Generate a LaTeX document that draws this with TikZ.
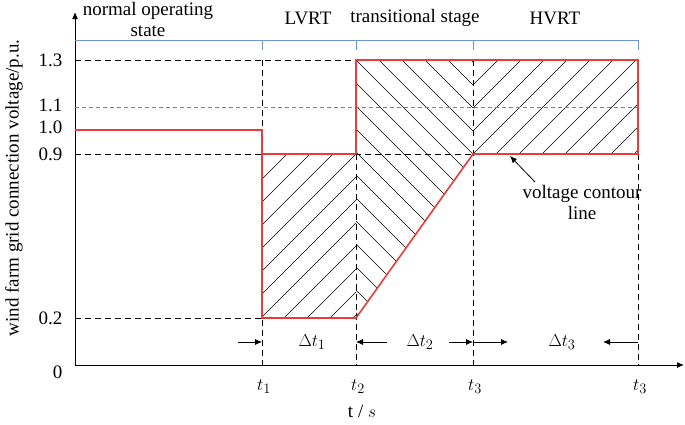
\documentclass[tikz,border=0pt]{standalone}
\usepackage{fontspec}
\setmainfont{Liberation Serif}
\usetikzlibrary{arrows.meta}
\begin{document}
\begin{tikzpicture}[x=1pt,y=-1pt,font=\fontsize{19}{21}\selectfont,
  dsh/.style={dash pattern=on 6pt off 4pt,line width=0.8pt},
  red/.style={draw={rgb,255:red,235;green,60;blue,60},line width=1.6pt},
  hatch/.style={line width=0.6pt},
  arr/.style={-{Latex[length=7pt,width=6pt]},line width=0.8pt}]
\useasboundingbox (0,0) rectangle (685,424);
% axes
\coordinate (O) at (75,365);
\coordinate (Ytop) at (75,12);
\coordinate (Xend) at (684,365);
\draw[arr,line width=1pt] (O) -- (Ytop);
\draw[arr,line width=1pt] (O) -- (Xend);
% blue bracket
\draw[draw={rgb,255:red,110;green,150;blue,210},line width=0.8pt] (75,40) -- (638,40)
  (262,40) -- (262,50) (356,40) -- (356,50) (473,40) -- (473,50) (638,40) -- (638,50);
% hatching
\begin{scope}
\clip (262,154) -- (356,154) -- (356,318) -- (262,318) -- cycle;
\foreach \i in {-12,...,12} \draw[hatch] (356+\i*23-300,154+300) -- ++(600,-600);
\end{scope}
\begin{scope}
\clip (356,60) -- (473,60) -- (473,154) -- (356,318) -- cycle;
\foreach \i in {-14,...,14} \draw[hatch] (473+\i*23-300,154-300) -- ++(600,600);
\end{scope}
\begin{scope}
\clip (473,60) -- (638,60) -- (638,154) -- (473,154) -- cycle;
\foreach \i in {-12,...,12} \draw[hatch] (473+\i*23-300,154+300) -- ++(600,-600);
\end{scope}
% dashed guides
\draw[dsh] (75,60) -- (356,60);
\draw[dsh] (75,154) -- (473,154);
\draw[dsh] (75,318) -- (262,318);
\draw[dash pattern=on 4pt off 3pt,line width=0.6pt,gray] (75,107) -- (638,107);
\draw[dsh] (262,60) -- (262,365);
\draw[dsh] (356,154) -- (356,365);
\draw[dsh] (473,60) -- (473,365);
\draw[dsh] (638,154) -- (638,365);
% red contour
\draw[red,line join=miter] (75,130) -- (262,130) -- (262,318) -- (356,318) -- (473,154) -- (638,154) -- (638,60) -- (356,60) -- (356,154);
\draw[red] (262,154) -- (356,154);
% y labels
\foreach \v/\y in {1.3/60,1.1/105,1.0/127,0.9/154,0.2/318,0/372} \node[anchor=east] (l\y) at (66,\y) {\v};
\node[rotate=90] (ylab) at (14,188) {wind farm grid connection voltage/p.u.};
% top labels
\node[align=center,inner sep=0pt] (ns) at (148,19) {normal operating\\state};
\node (lv) at (308,18) {LVRT};
\node (ts) at (415,18) {transitional stage};
\node (hv) at (555,18) {HVRT};
% t labels
\node (t1) at (264,387) {$t_1$};
\node (t2) at (358,387) {$t_2$};
\node (t3) at (475,387) {$t_3$};
\node (t4) at (640,387) {$t_3$};
\node (ts2) at (362,411) {t / $s$};
% delta t
\coordinate (a1) at (238,342); \coordinate (b1) at (262,342);
\coordinate (a2) at (387,342); \coordinate (b2) at (356,342);
\coordinate (a3) at (449,342); \coordinate (b3) at (473,342);
\coordinate (a4) at (473,342); \coordinate (b4) at (508,342);
\coordinate (a5) at (638,342); \coordinate (b5) at (603,342);
\foreach \k in {1,...,5} \draw[arr] (a\k) -- (b\k);
\node (d1) at (312,342) {$\Delta t_1$};
\node (d2) at (420,342) {$\Delta t_2$};
\node (d3) at (562,342) {$\Delta t_3$};
% annotation
\node[align=center,inner sep=1pt] (vc) at (582,202) {voltage contour\\line};
\coordinate (vp) at (510,156);
\draw[arr] (535,182) -- (vp);
\end{tikzpicture}
\end{document}
